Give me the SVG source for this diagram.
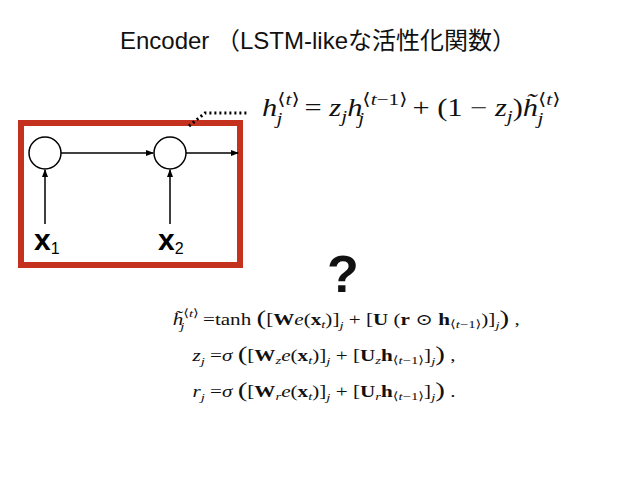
<svg xmlns="http://www.w3.org/2000/svg" width="638" height="479" viewBox="0 0 638 479">
<style>
.m{font-family:"Liberation Serif","DejaVu Serif",serif;fill:#111}
.i{font-style:italic}
.b{font-weight:bold}
.s{font-size:70%}
.ln{stroke:#000;stroke-width:1.5;fill:none}
</style>
<defs><marker id="a" markerWidth="8" markerHeight="8" refX="7" refY="4" orient="auto" markerUnits="userSpaceOnUse"><path d="M0,1 L8,4 L0,7 z" fill="#000"/></marker></defs>
<rect width="638" height="479" fill="#fff"/>
<text x="318" y="49" text-anchor="middle" font-family="'Liberation Sans','Noto Sans CJK JP',sans-serif" font-size="24" fill="#111">Encoder （LSTM-likeな活性化関数）</text>
<g id="box"><rect x="21" y="123" width="219" height="142" fill="none" stroke="#c4321f" stroke-width="6"/></g>
<g id="n1"><circle cx="45" cy="153" r="16" fill="#fff" stroke="#000" stroke-width="1.5"/></g>
<g id="n2"><circle cx="170" cy="153" r="16" fill="#fff" stroke="#000" stroke-width="1.5"/></g>
<g id="x1"><text x="34" y="250" font-family="'Liberation Sans',sans-serif" font-weight="bold" font-size="30">x<tspan font-size="16" dy="4" font-weight="normal">1</tspan></text></g>
<g id="x2"><text x="158" y="250" font-family="'Liberation Sans',sans-serif" font-weight="bold" font-size="30">x<tspan font-size="16" dy="4" font-weight="normal">2</tspan></text></g>
<g id="connectors">
<line class="ln" x1="61" y1="153" x2="153" y2="153" marker-end="url(#a)"/>
<line class="ln" x1="186" y1="153" x2="238" y2="153" marker-end="url(#a)"/>
<line class="ln" x1="45" y1="224" x2="45" y2="170" marker-end="url(#a)"/>
<line class="ln" x1="170" y1="224" x2="170" y2="170" marker-end="url(#a)"/>
<polyline points="189,126 205,113 248,113" fill="none" stroke="#000" stroke-width="3" stroke-dasharray="2,3"/>
</g>
<g transform="translate(262,116) scale(1.45,1.15)">
<text class="m" x="0" y="0" font-size="21"><tspan class="i">h</tspan><tspan class="s" dy="-10">⟨<tspan class="i">t</tspan>⟩</tspan><tspan class="s i" dx="-16" dy="17">j</tspan><tspan dy="-7" dx="10"> = </tspan><tspan class="i">z</tspan><tspan class="s i" dy="5">j</tspan><tspan class="i" dy="-5">h</tspan><tspan class="s" dy="-10">⟨<tspan class="i">t</tspan>−1⟩</tspan><tspan class="s i" dx="-34" dy="17">j</tspan><tspan dy="-7" dx="28"> + (1 − </tspan><tspan class="i">z</tspan><tspan class="s i" dy="5">j</tspan><tspan dy="-5">)</tspan><tspan class="i">h̃</tspan><tspan class="s" dy="-10">⟨<tspan class="i">t</tspan>⟩</tspan><tspan class="s i" dx="-16" dy="17">j</tspan></text>
</g>
<text x="343" y="292" text-anchor="middle" font-family="'Liberation Sans',sans-serif" font-weight="bold" font-size="52" fill="#111">?</text>
<g font-size="16" transform="translate(170,0) scale(1.32,1) translate(-170,0)">
<text class="m" x="172" y="325"><tspan class="i">h̃</tspan><tspan class="s" dy="-8">⟨<tspan class="i">t</tspan>⟩</tspan><tspan class="s i" dx="-14" dy="13">j</tspan><tspan dy="-5" dx="10"> =tanh </tspan><tspan font-size="22">(</tspan>[<tspan class="b">W</tspan><tspan class="i">e</tspan>(<tspan class="b">x</tspan><tspan class="s i" dy="3">t</tspan><tspan dy="-3">)]</tspan><tspan class="s i" dy="4">j</tspan><tspan dy="-4"> + [</tspan><tspan class="b">U</tspan> (<tspan class="b">r</tspan> ⊙ <tspan class="b">h</tspan><tspan class="s" dy="3">⟨<tspan class="i">t</tspan>−1⟩</tspan><tspan dy="-3">)]</tspan><tspan class="s i" dy="4">j</tspan><tspan dy="-4" font-size="22">)</tspan> ,</text>
<text class="m" x="187" y="361"><tspan class="i">z</tspan><tspan class="s i" dy="4">j</tspan><tspan dy="-4"> =</tspan><tspan class="i">σ</tspan> <tspan font-size="22">(</tspan>[<tspan class="b">W</tspan><tspan class="s i" dy="3">z</tspan><tspan class="i" dy="-3">e</tspan>(<tspan class="b">x</tspan><tspan class="s i" dy="3">t</tspan><tspan dy="-3">)]</tspan><tspan class="s i" dy="4">j</tspan><tspan dy="-4"> + [</tspan><tspan class="b">U</tspan><tspan class="s i" dy="3">z</tspan><tspan class="b" dy="-3">h</tspan><tspan class="s" dy="3">⟨<tspan class="i">t</tspan>−1⟩</tspan><tspan dy="-3">]</tspan><tspan class="s i" dy="4">j</tspan><tspan dy="-4" font-size="22">)</tspan> ,</text>
<text class="m" x="187" y="397"><tspan class="i">r</tspan><tspan class="s i" dy="4">j</tspan><tspan dy="-4"> =</tspan><tspan class="i">σ</tspan> <tspan font-size="22">(</tspan>[<tspan class="b">W</tspan><tspan class="s i" dy="3">r</tspan><tspan class="i" dy="-3">e</tspan>(<tspan class="b">x</tspan><tspan class="s i" dy="3">t</tspan><tspan dy="-3">)]</tspan><tspan class="s i" dy="4">j</tspan><tspan dy="-4"> + [</tspan><tspan class="b">U</tspan><tspan class="s i" dy="3">r</tspan><tspan class="b" dy="-3">h</tspan><tspan class="s" dy="3">⟨<tspan class="i">t</tspan>−1⟩</tspan><tspan dy="-3">]</tspan><tspan class="s i" dy="4">j</tspan><tspan dy="-4" font-size="22">)</tspan> .</text>
</g>
</svg>
